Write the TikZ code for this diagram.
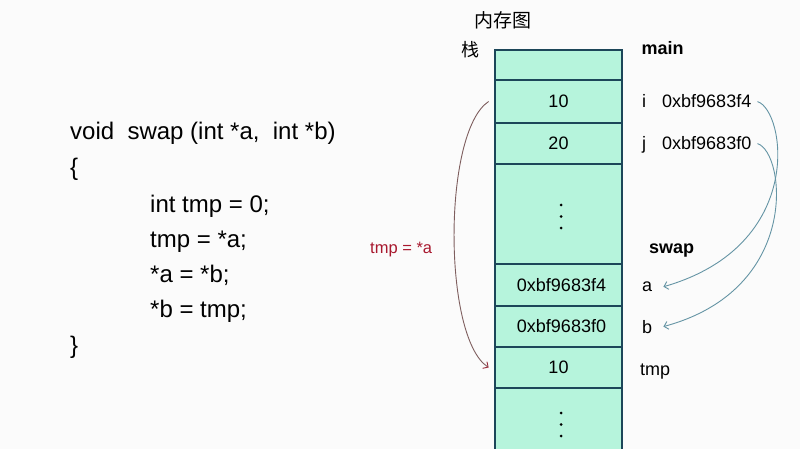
\documentclass[tikz,border=0pt]{standalone}
\usepackage{fontspec}
\setmainfont{Liberation Sans}
\newfontfamily\cjk{Noto Sans CJK SC}
\usetikzlibrary{arrows.meta}
\definecolor{cellfill}{HTML}{B6F4DC}
\definecolor{cellline}{HTML}{1C4659}
\definecolor{bgc}{HTML}{FBFBFB}
\definecolor{bluearr}{HTML}{6494A4}
\definecolor{redarr}{HTML}{7E5E5E}
\definecolor{redtxt}{HTML}{A8182E}
\begin{document}
\begin{tikzpicture}[x=1pt,y=-1pt,
  cell/.style={draw=cellline, fill=cellfill, line width=2.7pt, minimum width=127pt, inner sep=0pt, font=\fontsize{18}{18}\selectfont},
  code/.style={anchor=base west, inner sep=0pt, font=\fontsize{24}{24}\selectfont},
  lbl/.style={anchor=base west, inner sep=0pt, font=\fontsize{18}{18}\selectfont},
  bl/.style={lbl, font=\fontsize{18}{18}\selectfont\bfseries},
  cjkl/.style={inner sep=0pt, font=\fontsize{18}{18}\selectfont\cjk},
  bluearrow/.style={draw=bluearr, line width=0.9pt, -{Straight Barb[length=4pt,width=8pt]}},
  redarrow/.style={draw=redarr, line width=0.9pt, -{Straight Barb[length=4pt,width=8pt,color=redtxt!70!redarr]}},
  dot/.style={fill=black}
]
\useasboundingbox (0,0) rectangle (800,449);
\clip (0,0) rectangle (800,449);
\fill[bgc] (0,0) rectangle (800,449);

% code
\node[code] (l1) at (70,140) {void\ \ swap (int *a,\ \ int *b)};
\node[code] (l2) at (70,176) {\{};
\node[code] (l3) at (150,212) {int tmp = 0;};
\node[code] (l4) at (150,247) {tmp = *a;};
\node[code] (l5) at (150,282) {*a = *b;};
\node[code] (l6) at (150,317) {*b = tmp;};
\node[code] (l7) at (70,353) {\}};

% titles
\node[cjkl, font=\fontsize{19}{19}\selectfont\cjk] (title) at (503,20.5) {内存图};
\node[cjkl] (zhan) at (470,50) {栈};

% stack cells
\node[cell, minimum height=30pt] (c0) at (558.5,65) {};
\node[cell, minimum height=43pt] (c1) at (558.5,101.5) {10};
\node[cell, minimum height=41pt] (c2) at (558.5,143.5) {20};
\node[cell, minimum height=100pt] (c3) at (558.5,214) {};
\node[cell, minimum height=42pt] (c4) at (558.5,285) {\hspace{6pt}0xbf9683f4};
\node[cell, minimum height=41pt] (c5) at (558.5,326.5) {\hspace{6pt}0xbf9683f0};
\node[cell, minimum height=41pt] (c6) at (558.5,367.5) {10};
\node[cell, minimum height=80pt] (c7) at (558.5,428) {};

% vertical dots
\foreach \yy in {205,216.5,228} \fill[dot] (561,\yy) circle (1.5pt);
\foreach \yy in {413,424.5,436} \fill[dot] (561,\yy) circle (1.5pt);

% right labels
\node[bl] (main) at (641.5,55) {main};
\node[lbl] (vi) at (642,108) {i};
\node[lbl] (ai) at (662,108) {0xbf9683f4};
\node[lbl] (vj) at (642,150) {j};
\node[lbl] (aj) at (662,150) {0xbf9683f0};
\node[bl] (swap) at (649,253) {swap};
\node[lbl] (la) at (642,291.5) {a};
\node[lbl] (lb) at (642,333) {b};
\node[lbl] (ltmp) at (640,375) {tmp};

% red label
\node[anchor=base west, inner sep=0pt, text=redtxt, font=\fontsize{16.5}{16.5}\selectfont] (rl) at (370,253) {tmp = *a};

% arrows
\draw[bluearrow] ([xshift=6pt]ai.east) .. controls +(28,9) and +(143,-41) .. ([xshift=11pt]la.east);
\draw[bluearrow] ([xshift=6pt]aj.east) .. controls +(28,9) and +(138,-37) .. ([xshift=11pt]lb.east);
\draw[redarrow] ([xshift=-5pt]c1.west) .. controls +(-46,30) and +(-46,-30) .. ([xshift=-5pt]c6.west);
\end{tikzpicture}
\end{document}
